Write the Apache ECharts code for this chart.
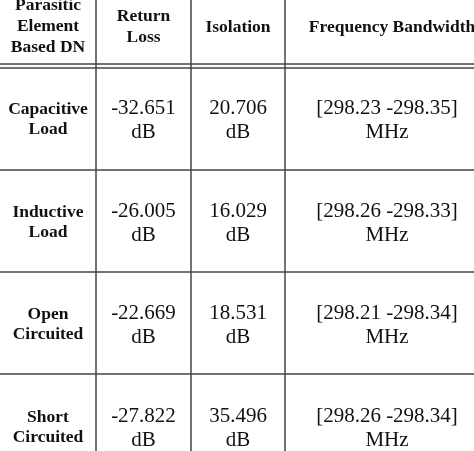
<!DOCTYPE html><html><head><meta charset="utf-8"><script src="https://cdn.jsdelivr.net/npm/echarts@6/dist/echarts.min.js"></script>
<style>html,body{margin:0;background:#fff}#c{width:474px;height:451px}</style></head><body><div id="c"></div><script>
const headers=['Parasitic\nElement\nBased DN','Return\nLoss','Isolation','Frequency Bandwidth'];
const rowNames=['Capacitive\nLoad','Inductive\nLoad','Open\nCircuited','Short\nCircuited'];
const returnLoss=['-32.651','-26.005','-22.669','-27.822'];
const isolation=['20.706','16.029','18.531','35.496'];
const bandwidth=['[298.23 -298.35]','[298.26 -298.33]','[298.21 -298.34]','[298.26 -298.34]'];
const colX=[0,96,191,285,495];
const rowY=[66,170,272,374,478];
const g=[];
const ff='"Liberation Serif","DejaVu Serif",serif';
const lc='#444';
function line(x1,y1,x2,y2){g.push({type:'line',shape:{x1,y1,x2,y2},style:{stroke:lc,lineWidth:1.5}});}
for(let i=1;i<4;i++)line(colX[i],-5,colX[i],460);
line(0,64,474,64);line(0,68,474,68);
for(let r=1;r<4;r++)line(0,rowY[r],474,rowY[r]);
function txt(x,y,t,bold,size,lh){g.push({type:'text',x,y,style:{text:t,font:(bold?'bold ':'')+size+'px '+ff,fill:'#111',align:'center',verticalAlign:'middle',lineHeight:lh}});}
const cx=i=>(colX[i]+colX[i+1])/2;
txt(cx(0),26,headers[0],true,17.5,21);
txt(cx(1),27,headers[1],true,17.5,21);
txt(cx(2),27,headers[2],true,17.5,21);
txt(cx(3)+2,27,headers[3],true,17.5,21);
for(let r=0;r<4;r++){
  const cy=(rowY[r]+rowY[r+1])/2+2;
  txt(cx(0),cy-1,rowNames[r],true,17.5,20);
  txt(cx(1),cy,returnLoss[r]+'\ndB',false,21,24);
  txt(cx(2),cy,isolation[r]+'\ndB',false,21,24);
  txt(cx(3)-3,cy,bandwidth[r]+'\nMHz',false,21,24);
}
const ch=echarts.init(document.getElementById('c'));
ch.setOption({animation:false,graphic:g});
</script></body></html>
